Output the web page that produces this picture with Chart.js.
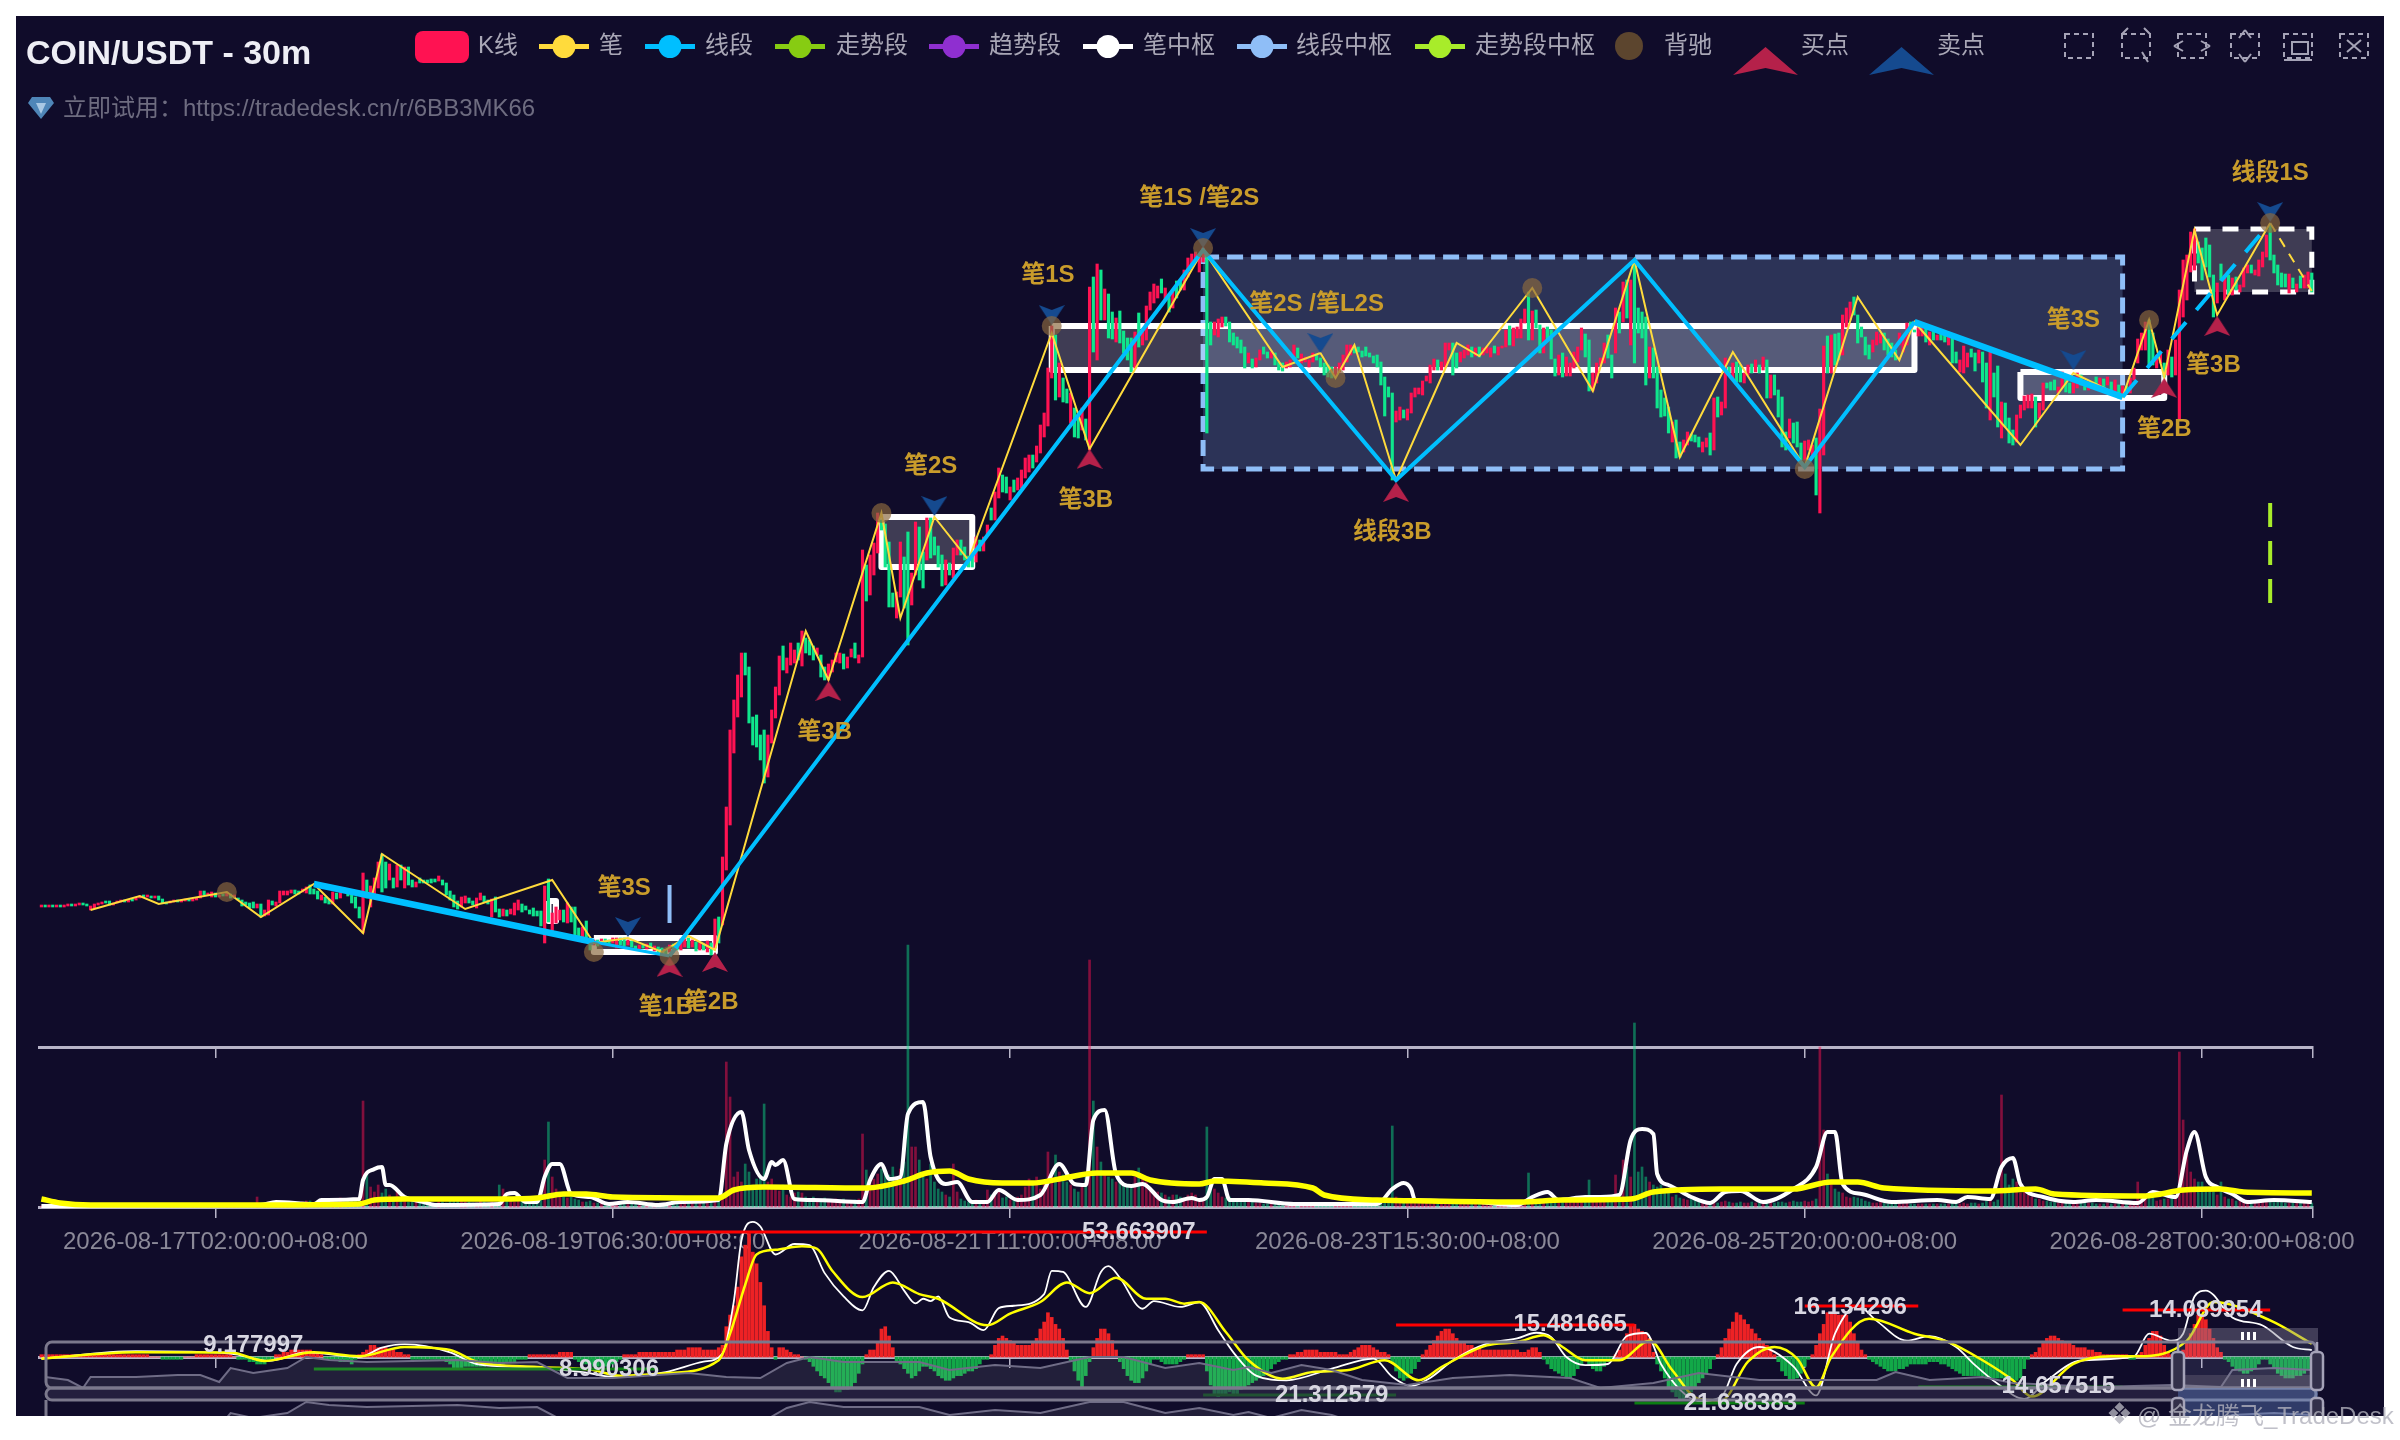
<!DOCTYPE html>
<html>
<head>
<meta charset="utf-8">
<title>COIN/USDT - 30m</title>
<script src="https://cdn.jsdelivr.net/npm/chart.js@4/dist/chart.umd.min.js"></script>
<style>
  html, body { margin: 0; padding: 0; background: #fff; width: 2400px; height: 1440px; overflow: hidden; }
  #board { position: absolute; left: 16px; top: 16px; width: 2368px; height: 1400px; background: #100c2a; overflow: hidden; }
  #chart { position: absolute; left: -16px; top: -16px; }
  #mark { position: absolute; left: 2106px; top: 1396px; white-space: nowrap; font: 24px "Liberation Sans", "Noto Sans CJK SC", sans-serif; color: rgba(176,176,188,.8); }
  #mark b { font: 30px "DejaVu Sans"; margin-right: 4px; }
</style>
</head>
<body>
<div id="board"><canvas id="chart" width="2400" height="1440"></canvas></div>
<div id="mark"><b>❖</b>@ 金龙腾飞_TradeDesk</div>
<script>
// K线 (价格没有坐标轴, 单位是相对值)
const candleOpen = [
93,94,93,94,93,94,93,94,95,94,95,96,95,90,92,95,96,98,99,95,
97,98,99,98,100,100,102,104,103,104,102,104,101,97,97,98,99,98,99,100,
99,100,102,109,105,103,107,103,105,104,106,103,102,100,98,97,98,92,96,84,
85,99,94,97,105,105,107,110,109,108,107,115,111,109,100,103,101,96,107,102,
112,110,108,103,93,67,120,93,102,112,146,138,120,122,113,135,112,133,120,113,
122,120,120,121,121,119,120,117,109,105,99,93,97,102,99,92,100,104,100,83,
103,91,84,90,86,85,90,96,94,90,92,89,89,57,121,69,77,80,90,77,
93,93,72,58,79,60,55,60,57,61,60,57,52,62,62,55,59,54,51,55,
51,57,49,53,52,50,48,56,55,50,53,62,53,58,50,56,48,57,52,83,
75,130,175,247,283,303,347,333,283,285,265,270,223,257,282,305,354,327,335,337,
357,334,362,360,354,345,345,333,320,328,338,337,346,332,343,357,337,343,435,405,
425,447,480,476,458,407,382,403,443,468,395,425,473,448,440,482,463,454,445,415,
437,422,445,460,453,444,445,438,460,449,465,492,480,502,525,523,500,520,510,512,
522,528,545,538,547,563,574,622,665,603,622,611,577,592,588,570,581,550,723,640,
730,680,706,688,658,689,669,662,662,632,687,655,660,690,697,702,721,700,706,692,
719,720,710,723,735,738,728,738,743,678,665,663,673,683,678,667,663,660,653,637,
641,633,640,653,648,642,647,638,637,632,633,640,652,637,638,633,638,646,642,637,
635,633,623,628,630,638,645,652,653,649,653,647,644,645,638,623,613,607,578,580,
590,580,587,603,606,605,619,617,630,640,630,633,650,657,647,638,642,645,653,644,
653,645,647,643,654,645,652,653,674,654,662,662,677,708,660,690,675,647,673,670,
641,625,647,624,624,632,638,650,666,660,609,617,635,637,665,645,647,688,678,720,
655,740,692,688,683,622,652,633,610,602,593,558,580,558,548,555,566,565,563,548,
553,567,550,603,585,592,633,620,638,635,617,625,636,628,635,630,640,602,625,610,
603,568,562,577,578,557,540,550,545,562,487,545,664,627,666,667,645,673,680,703,
685,673,663,655,648,655,657,667,661,657,650,655,648,655,678,670,664,664,675,655,
672,660,668,665,655,663,648,628,627,633,651,647,637,648,637,580,627,634,562,597,
582,570,558,582,590,592,592,603,582,590,617,618,620,607,612,622,617,607,612,625,
618,610,616,623,610,621,615,618,605,615,605,614,607,620,637,650,650,680,667,632,
637,637,625,643,625,580,683,700,728,730,758,752,762,755,725,697,736,700,725,705,
723,708,713,727,735,725,724,733,743,775,745,735,727,726,707,722,708,724,712,712,
727];
const candleClose = [
94,93,94,93,94,93,94,95,94,95,96,95,94,94,96,96,98,97,95,96,
98,99,98,100,99,102,104,103,104,102,103,100,97,96,98,99,98,99,100,99,
100,101,109,105,106,108,103,105,104,108,102,104,100,94,95,92,92,96,83,90,
100,95,98,109,109,109,110,106,106,111,113,106,106,101,105,97,96,108,101,112,
108,104,97,92,82,127,102,114,122,138,108,112,136,112,135,120,133,115,113,118,
117,117,117,117,118,124,115,105,100,93,91,103,104,97,95,102,107,98,96,101,
88,83,91,84,91,97,100,88,90,86,84,84,74,114,78,87,93,90,78,97,
78,62,60,73,58,50,60,54,61,57,56,62,62,55,54,60,53,50,55,52,
56,52,54,46,46,45,55,48,50,61,66,52,60,49,57,50,59,45,81,57,
143,193,270,300,325,347,325,277,255,253,240,217,265,290,313,344,330,342,357,350,
340,369,347,345,340,352,323,320,336,340,347,347,331,343,351,342,345,450,399,445,
457,487,470,433,393,393,408,458,392,355,427,478,420,412,482,442,445,433,414,440,
425,452,460,445,440,433,433,463,449,463,475,480,508,532,508,507,513,508,522,530,
542,545,532,554,575,587,632,674,600,637,598,597,607,563,562,592,560,713,648,736,
680,711,662,661,682,657,647,640,628,668,653,670,694,708,716,714,707,712,688,710,
702,710,730,742,746,748,745,752,567,655,678,681,683,674,658,655,652,647,632,647,
632,642,650,646,642,648,635,630,629,638,640,655,642,646,643,640,647,640,633,625,
623,622,633,637,645,655,655,647,648,643,644,643,637,633,615,584,603,520,589,593,
582,591,607,612,612,619,624,635,641,630,638,657,657,625,632,648,650,655,643,652,
643,652,653,652,647,653,654,670,655,672,673,681,691,660,689,672,647,672,660,641,
624,645,623,643,637,648,653,672,643,609,627,637,642,657,642,622,692,667,718,682,
720,637,667,662,615,653,622,592,583,584,567,578,542,543,560,568,559,558,553,558,
562,545,602,583,598,642,625,637,618,618,627,635,627,640,627,643,602,625,605,583,
553,550,581,557,553,540,559,560,555,505,591,654,627,665,635,640,685,692,698,685,
657,663,645,641,660,668,666,650,645,643,640,667,662,677,670,668,672,673,658,668,
660,665,660,658,666,637,637,640,654,647,643,629,650,618,592,648,603,573,598,573,
557,555,585,595,604,605,606,573,597,617,612,610,610,613,628,608,607,620,627,615,
610,616,612,616,622,613,623,607,620,602,614,608,622,632,661,667,678,635,635,645,
648,623,650,623,660,710,740,745,768,771,737,720,733,723,683,717,720,725,705,722,
710,715,732,735,727,730,740,748,765,740,727,715,713,713,726,712,716,712,725,728,
708];
// 成交量
const volumes = [
1,1,1,1,1,1,1,1,1,1,1,1,1,2,2,1,1,2,1,1,
1,2,1,1,1,2,2,1,1,2,1,2,3,2,1,1,1,2,1,1,
2,2,4,3,2,3,2,2,2,3,2,3,2,2,2,3,3,10,4,3,
5,4,4,6,4,4,3,3,3,5,6,6,4,5,4,4,4,7,5,9,
5,6,7,6,8,106,33,20,15,22,14,18,12,9,17,8,6,5,5,6,
4,3,4,3,3,5,5,4,6,7,8,6,5,5,4,4,8,5,4,5,
3,22,18,8,6,5,7,6,5,7,8,7,14,47,85,30,18,12,14,9,
10,8,7,5,5,6,4,4,4,3,3,4,4,4,3,3,3,3,3,2,
2,3,3,3,3,2,2,3,3,4,5,5,6,5,5,4,5,6,8,7,
12,145,110,30,35,25,43,35,22,28,30,103,25,28,20,16,22,12,10,14,
15,14,10,8,10,6,7,9,6,5,8,6,8,5,4,7,8,73,37,30,
28,33,38,35,32,40,30,38,45,262,60,60,47,30,28,43,25,18,15,12,
10,43,15,8,6,5,5,7,4,4,17,12,12,15,9,10,7,8,10,12,
20,28,22,30,18,25,55,35,52,35,32,25,22,18,15,20,30,247,106,60,
45,35,30,28,25,28,22,20,22,30,39,28,25,18,16,15,14,12,10,12,
12,10,9,12,14,12,8,9,80,25,18,14,10,9,10,8,7,7,6,5,
5,4,4,3,3,4,3,3,3,4,4,4,4,3,3,3,3,3,3,4,
4,3,3,3,4,5,4,3,3,3,3,3,3,4,6,8,6,81,10,7,
7,6,6,5,5,5,6,6,5,4,4,5,4,4,3,3,3,4,3,3,
3,3,3,3,3,3,3,4,4,4,4,4,5,34,8,5,8,6,5,8,
7,7,9,6,5,6,7,8,9,27,7,7,8,9,10,12,32,14,47,40,
30,184,35,40,30,25,22,20,22,16,15,10,12,9,8,7,8,7,5,6,
6,5,5,4,5,6,5,4,4,5,4,4,5,4,4,4,6,5,4,5,
5,4,5,6,5,5,6,5,6,8,160,77,33,25,18,15,14,10,9,10,
9,8,6,5,4,4,5,4,3,3,3,4,3,4,3,3,3,3,3,3,
3,3,3,3,3,4,4,3,4,3,4,4,3,4,6,8,5,7,112,33,
22,28,25,14,15,12,10,8,8,6,6,5,5,4,5,4,4,4,4,5,
4,4,4,3,3,3,4,3,3,4,3,4,5,6,25,10,8,10,9,6,
7,8,8,10,12,155,87,53,35,28,25,25,20,18,15,12,25,10,8,8,
6,6,8,7,7,6,6,5,5,6,5,5,5,4,4,4,4,4,4,4,
4];
const volFastBars = [0,58,62,72,74,84,85,88,90,91,92,96,101,104,121,123,125,128,131,133,135,137,140,145,150,155,163,169,179,181,185,187,191,193,194,196,199,204,217,219,222,224,227,229,233,235,239,242,246,250,253,258,264,269,273,276,278,281,284,288,291,296,299,304,306,308,310,312,314,319,331,353,357,360,362,363,375,390,394,398,401,408,412,417,420,423,426,427,430,436,441,445,449,455,463,469,472,474,476,481,489,501,506,509,515,518,521,523,529,537,543,554,558,564,567,569,572,575,579,583,590,600];
const volFastValues = [1,2,5,3,7,8,27,38,40,22,22,10,5,2,3,13,14,5,5,30,43,43,13,10,3,5,2,5,7,63,95,57,28,45,42,47,8,7,5,27,43,28,30,93,105,50,23,25,5,5,17,7,12,43,23,22,87,97,33,21,23,7,5,9,7,10,28,28,7,7,3,3,18,24,18,7,6,2,10,15,7,10,10,12,67,78,73,33,22,10,4,15,16,5,18,40,75,75,23,13,5,7,5,10,8,40,49,23,10,5,7,4,15,10,57,75,30,20,13,5,7,5];
const volSlowBars = [0,5,13,58,84,88,96,121,131,138,144,151,179,183,191,218,228,234,240,245,254,262,269,279,288,293,306,310,323,336,339,353,367,391,402,420,426,444,463,473,480,487,515,527,532,556,566,576,582,600];
const volSlowValues = [8,4,2,2,3,7,8,8,9,13,13,10,9,17,20,19,26,34,36,28,24,24,28,34,34,27,23,26,24,19,12,7,6,5,7,8,15,18,18,25,25,19,16,18,13,11,17,18,15,14];
// MACD
const macdHist = [
1,1,1,1,1,1,1,1,1,1,1,1,1,1,1,1,1,1,1,1,
1,1,1,1,1,1,1,1,1,0,0,0,-1,-1,-1,-1,-1,-1,0,0,
0,1,1,1,1,1,1,1,1,1,1,0,-1,-1,-1,-2,-2,-3,-3,-3,
-2,-1,1,1,2,2,3,3,3,3,3,3,2,2,1,-1,-1,-1,-1,-2,
-2,-2,-3,-1,1,2,3,5,5,4,4,4,3,3,2,2,1,1,-1,-1,
-1,-1,-1,-1,-1,-1,-1,-2,-3,-5,-5,-5,-4,-4,-4,-4,-4,-4,-3,-3,
-3,-3,-3,-2,-2,-2,-1,-1,-1,1,1,1,1,1,1,1,1,2,2,2,
2,-1,-2,-3,-3,-3,-4,-4,-4,-4,-4,-3,-2,-1,1,1,1,1,2,2,
2,2,2,2,2,2,2,2,3,3,3,4,4,4,4,3,3,3,3,4,
5,13,18,22,30,43,48,53,45,40,32,22,11,4,-1,4,4,3,2,1,
1,0,-1,-2,-4,-6,-8,-9,-11,-13,-15,-15,-14,-14,-13,-11,-7,-3,1,3,
3,6,12,13,9,4,-2,-3,-5,-7,-9,-8,-6,-4,-4,-5,-6,-8,-9,-10,
-10,-9,-8,-8,-7,-6,-6,-5,-3,-1,-1,1,5,8,9,8,7,6,5,5,
5,5,6,8,12,15,19,17,14,12,8,3,-2,-6,-10,-13,-8,-2,4,8,
12,12,10,7,3,-2,-5,-8,-10,-11,-11,-9,-6,-3,-1,-1,-2,-3,-3,-3,
-3,-2,-1,1,1,1,1,1,-6,-12,-16,-17,-16,-16,-15,-16,-16,-14,-13,-12,
-11,-10,-9,-8,-6,-5,-3,-2,-1,-1,1,1,2,2,3,3,3,3,2,2,
2,2,2,1,1,1,2,3,4,5,5,5,4,3,2,2,1,-2,-6,-9,
-10,-9,-7,-5,-2,1,3,5,7,9,11,12,12,10,8,6,6,5,5,4,
4,3,3,3,3,3,3,3,3,3,3,2,2,3,4,4,2,-1,-3,-5,
-6,-7,-8,-9,-9,-8,-5,-3,-1,-3,-5,-6,-6,-4,-2,-1,1,3,6,10,
14,14,12,11,10,8,2,-3,-6,-9,-13,-15,-17,-18,-18,-17,-15,-13,-11,-9,
-7,-5,-1,1,4,8,12,15,19,18,16,14,12,10,8,6,5,3,1,-2,
-6,-8,-10,-10,-9,-7,-4,-1,1,5,10,14,19,19,19,18,18,18,15,10,
6,3,1,-1,-2,-3,-4,-5,-6,-6,-6,-5,-5,-4,-3,-3,-3,-3,-3,-2,
-2,-2,-3,-3,-4,-5,-6,-7,-8,-8,-8,-8,-8,-8,-9,-9,-9,-9,-9,-9,
-10,-10,-10,-9,-5,-1,1,2,4,6,8,9,9,8,7,6,6,5,4,4,
4,3,3,2,2,1,1,1,1,1,1,1,-1,-1,1,2,5,8,11,11,
9,5,2,1,1,1,3,6,10,14,18,18,16,12,8,4,2,-1,-2,-4,
-5,-6,-7,-7,-6,-5,-3,-1,-1,-3,-5,-7,-8,-9,-9,-9,-8,-8,-7,-5,
-4];
const difBars = [0,25,50,60,70,84,90,96,108,115,129,143,151,165,175,180,183,185,188,190,194,199,203,207,212,217,220,224,228,231,233,235,237,240,245,249,253,257,265,267,270,276,280,282,285,291,294,301,306,311,315,321,329,341,352,357,362,367,373,382,390,395,399,403,408,414,419,424,428,433,438,444,448,454,463,469,474,480,485,493,499,506,511,517,524,530,539,553,557,563,566,569,572,579,587,595,600];
const difValues = [-0.7,2.5,1.5,-1.7,2,0,4,5.5,2,-3,-4.3,-6.5,-8.5,-6.5,-2,1.5,24,50,58,56,44,48.5,48,36,26,20,30,37,28.5,23,25,24,26,17,15,11.5,21,22,27,37,36.5,21.5,36.5,39,34,20.7,24,21.5,23.5,11.5,2,-8,-10,-5,-0.7,-8.5,-12.5,-9,-1.5,5.7,8,10.4,8.5,0,-3.5,-3,9,10.3,-3,-14,-19,-17,-3,4.3,-4,-16.5,10,22,15.5,7,9,4.3,-3.5,-11.5,-18,-10,-1.5,0.3,10,7,10,26,28.5,17,13.5,4.3,3];
const deaBars = [0,25,50,59,72,84,96,108,115,131,145,153,165,179,182,186,189,194,201,205,209,217,225,232,237,250,256,264,271,277,284,292,297,302,306,313,319,328,336,345,355,364,370,382,390,397,402,408,417,425,431,438,444,451,458,464,469,473,483,495,504,513,521,526,537,547,554,567,574,589,600];
const deaValues = [-0.7,2,1.9,-1.7,2,0.3,4.3,3,-2,-4.3,-5.4,-8,-7,-1.4,10,31,44,46,47.5,46.4,37,25.7,32,27,25,13.6,18.6,23.6,32,27.4,34,25,25,22.9,23.6,10.7,-1.4,-9.3,-6.4,-5.7,-1.4,-10,-4.3,5,6.4,9.3,4.3,-1.4,-1.4,7,-5.7,-18,-18.6,-2,4.3,-0.7,-13,0,16.4,10,6.4,-1.4,-10,-17,-3,0.3,0.3,7,23.6,15.7,5.7];
const markStart = [166,72,307,358,421,466,496,550];
const markEnd = [308,163,358,421,466,496,550,589];
const markLevel = [53.66,-5.2,-16.3,13.7,-19.7,21.9,-12.9,20.2];
const macdLabels = ["53.663907","9.177997","8.990306","21.312579","15.481665","21.638383","16.134296","14.657515","14.089954"];
const macdLabelBars = [290,56,150,341,404,449,478,533,572];
const macdLabelLevels = [54,5.6,-4.7,-15.9,14.6,-19.3,21.9,-12,20.6];
// 笔, 线段
const biBars = [13,26,31,49,58,72,85,90,112,135,146,155,164,171,178,202,208,222,227,236,245,267,277,307,328,338,342,347,358,374,380,394,410,421,433,447,466,480,491,495,523,537,550,557,561,569,575,589,600];
const biPrices = [90,104,96,108,83,116,67,146,91,120,57,62,48,64,50,369,320,487,382,483,440,667,551,750,633,647,622,655,520,657,644,712,609,740,543,648,533,703,640,678,555,627,603,680,623,770,685,777,709];
const segBars = [72,146,166,307,358,421,466,495,550,589];
const segPrices = [116,58,44,750,520,740,533,678,603,777];
// 中枢: 笔中枢, 线段中枢
const biZsStart = [146,222,267,523,134];
const biZsEnd = [178,246,495,561,136];
const biZsLow = [48,433,630,602,79];
const biZsHigh = [62,483,674,628,99];
const lastZs = {start: 569, end: 600, low: 708, high: 771};
const segZsStart = [307,166];
const segZsEnd = [550,166];
const segZsLow = [531,77];
const segZsHigh = [743,115];
const trendZsBar = 589;
const trendZsLow = 397;
const trendZsHigh = 507;
// 背驰, 买卖点
const divergeBars = [49,146,166,222,267,307,342,394,466,557,589];
const divergePrices = [108,48,44,487,674,752,622,712,531,680,777];
const buyBars = [166,178,208,277,358,561,575];
const buyPrices = [43,48,319,551,518,622,684];
const sellBars = [155,236,267,307,338,537,589];
const sellPrices = [63,484,675,752,647,630,778];
const signalLabels = ["笔3S","笔1B","笔2B","笔3B","笔2S","笔3B","笔1S","笔1S /笔2S","笔2S /笔L2S","线段3B","笔3S","笔2B","笔3B","线段1S"];
const signalBars = [154,165,177,207,235,276,266,306,337,357,537,561,574,589];
const signalPrices = [112,-7,-2,268,534,500,725,802,696,468,680,571,635,827];
// x 轴
const xTickBars = [46,151,256,361,466,571,600.3];
const xTickLabels = ["2026-08-17T02:00:00+08:00","2026-08-19T06:30:00+08:00","2026-08-21T11:00:00+08:00","2026-08-23T15:30:00+08:00","2026-08-25T20:00:00+08:00","2026-08-28T00:30:00+08:00",""];
// dataZoom 里的缩略线
const traceBars = [1,7,11,13,25,36,42,47,50,56,65,70,76,86,110,121,131,139,151,171,181,190,197,203,212,232,240,252,264,277,286,297,306,315,319,325,333,341,349,361,373,388,404,412,426,438,454,469,485,490,499,513,521,543,563,576,579,590,600];
const traceValues = [11,8,0,11,11,13,13,6,20,15,20,31,28,26,28,25,26,10,10,15,11,10,25,31,26,26,18,23,20,31,31,20,25,18,21,15,23,18,8,3,10,13,10,0,5,15,8,8,8,16,8,11,5,1,3,1,18,20,18];

const legendNames = ["K线","笔","线段","走势段","趋势段","笔中枢","线段中枢","走势段中枢","背驰","买点","卖点"];
const legendColors = ["#ff1252","#ffdb3c","#00bfff","#87cc12","#8f2fd0","#ffffff","#8fbef7","#a8ec2a","#5c452e","#b5214a","#154a8f"];

const FONT = "'Liberation Sans','Noto Sans CJK SC',sans-serif";
const UP = "#ff1252", DOWN = "#0fe68c";

// 每个 y 轴的零点所在像素和每单位像素, 只用来摆放各子图
const yBands = {y:[1000,1], yVol:[1207,1], yMacd:[1357,2.33], yTrace:[1388,1], yTrace2:[1433,1]};
const BAR_STEP = 3.784, X_LEFT = 39.5;

function pts(xs, ys) {
  return xs.map((x, i) => ({x: x, y: ys[i]}));
}

function rect(x0, x1, lo, hi) {
  return [{x:x0,y:hi},{x:x1,y:hi},{x:x1,y:lo},{x:x0,y:lo},{x:x0,y:hi}];
}

// 箭头, 尖端放在画布中心
function arrowIcon(color, up) {
  const c = document.createElement("canvas");
  c.width = 26; c.height = 40;
  const g = c.getContext("2d");
  g.fillStyle = color;
  g.beginPath();
  if (up) {
    g.moveTo(13,20); g.lineTo(26,40); g.lineTo(13,35); g.lineTo(0,40);
  } else {
    g.moveTo(13,20); g.lineTo(26,0); g.lineTo(13,5); g.lineTo(0,0);
  }
  g.closePath(); g.fill();
  return c;
}

const datasets = [];

// 中枢框
segZsStart.forEach((s, i) => datasets.push({
  type:"line", data:rect(s, segZsEnd[i], segZsLow[i], segZsHigh[i]), borderColor:"#8fbef7", borderWidth:i==0?5:4,
  borderDash:[16,8], backgroundColor:"rgba(144,190,250,.22)", fill:i==0?"shape":false, pointRadius:0, tension:0, order:12
}));
biZsStart.forEach((s, i) => datasets.push({
  type:"line", data:rect(s, biZsEnd[i], biZsLow[i], biZsHigh[i]), borderColor:"#ffffff", borderWidth:6,
  borderJoinStyle:"round", backgroundColor:"rgba(255,255,255,.2)", fill:"shape", pointRadius:0, tension:0, order:11
}));
datasets.push({
  type:"line", data:rect(lastZs.start, lastZs.end, lastZs.low, lastZs.high), borderColor:"#ffffff", borderWidth:5,
  borderDash:[16,12], backgroundColor:"rgba(255,255,255,.2)", fill:"shape", pointRadius:0, tension:0, order:11
});
datasets.push({
  type:"line", data:[{x:trendZsBar,y:trendZsLow},{x:trendZsBar,y:trendZsHigh}], borderColor:"#a8ec2a", borderWidth:4,
  borderDash:[24,14], pointRadius:0, order:11
});

// 成交量
datasets.push({
  type:"bar", yAxisID:"yVol", order:10, barThickness:2, grouped:false,
  data:volumes.map((v, i) => ({x:i, y:v})),
  backgroundColor:volumes.map((v, i) => candleClose[i] >= candleOpen[i] ? "rgba(255,18,82,.48)" : "rgba(15,230,140,.45)")
});
// MACD 柱
datasets.push({
  type:"bar", yAxisID:"yMacd", order:9, barThickness:3, grouped:false,
  data:macdHist.map((v, i) => ({x:i, y:v})),
  backgroundColor:macdHist.map(v => v >= 0 ? "#ee2225" : "#12a848")
});
// K线
datasets.push({
  type:"bar", order:8, barThickness:2.5, minBarLength:2, grouped:false,
  data:candleOpen.map((o, i) => ({x:i, y:[o, candleClose[i]]})),
  backgroundColor:candleOpen.map((o, i) => candleClose[i] >= o ? UP : DOWN)
});
// 笔
datasets.push({
  type:"line", data:pts(biBars, biPrices), borderColor:"#ffdb3c", borderWidth:2, pointRadius:0, tension:0, order:7,
  segment:{borderDash:c => c.p0DataIndex == biBars.length - 2 ? [10,8] : undefined}
});
// 线段
datasets.push({
  type:"line", data:pts(segBars, segPrices), borderColor:"#00bfff", borderWidth:4, pointRadius:0, tension:0, order:6,
  segment:{
    borderWidth:c => c.p0DataIndex == 0 || c.p0DataIndex == 7 ? 6.5 : c.p0DataIndex == 1 ? 3 : 4,
    borderDash:c => c.p0DataIndex == segBars.length - 2 ? [22,16] : undefined
  }
});
// 成交量均线
datasets.push({type:"line", yAxisID:"yVol", data:pts(volFastBars, volFastValues), borderColor:"#ffffff", borderWidth:4, pointRadius:0, cubicInterpolationMode:"monotone", order:5});
datasets.push({type:"line", yAxisID:"yVol", data:pts(volSlowBars, volSlowValues), borderColor:"#ffff00", borderWidth:5.5, pointRadius:0, cubicInterpolationMode:"monotone", order:4.5});
// DIF, DEA
datasets.push({type:"line", yAxisID:"yMacd", data:pts(difBars, difValues), borderColor:"#ffffff", borderWidth:1.8, pointRadius:0, cubicInterpolationMode:"monotone", order:5});
datasets.push({type:"line", yAxisID:"yMacd", data:pts(deaBars, deaValues), borderColor:"#ffff00", borderWidth:2.5, pointRadius:0, cubicInterpolationMode:"monotone", order:4.5});
markStart.forEach((s, i) => datasets.push({
  type:"line", yAxisID:"yMacd", data:[{x:s,y:markLevel[i]},{x:markEnd[i],y:markLevel[i]}],
  borderColor:markLevel[i] > 0 ? "#ff0000" : "#0b7d12", borderWidth:3, pointRadius:0, order:4
}));
// 背驰, 买卖点
datasets.push({type:"line", showLine:false, data:pts(divergeBars, divergePrices), pointStyle:"circle", pointRadius:10, pointBorderWidth:0, pointBackgroundColor:"rgba(139,105,62,.68)", order:3});
datasets.push({type:"line", showLine:false, data:pts(buyBars, buyPrices), pointStyle:arrowIcon("#b5214a", true), pointRadius:10, order:3});
datasets.push({type:"line", showLine:false, data:pts(sellBars, sellPrices), pointStyle:arrowIcon("#154a8f", false), pointRadius:10, order:3});
// dataZoom 缩略线
datasets.push({type:"line", yAxisID:"yTrace", data:pts(traceBars, traceValues), borderColor:"#6f6c86", borderWidth:2, pointRadius:0, tension:0, fill:{value:0}, backgroundColor:"rgba(255,255,255,.08)", order:1});
datasets.push({type:"line", yAxisID:"yTrace2", data:pts(traceBars, traceValues), borderColor:"#6f6c86", borderWidth:2, pointRadius:0, tension:0, fill:{value:0}, backgroundColor:"rgba(255,255,255,.08)", order:1});

function xAxis(level, showLabels) {
  return {
    type:"linear", axis:"x", min:-0.5, max:600.3, offset:false, position:{y:level},
    afterBuildTicks: a => { a.ticks = xTickBars.map(v => ({value:v})); },
    grid:{drawOnChartArea:false, drawTicks:true, tickLength:9, color:"#b8b5c8", lineWidth:1.5, offset:false},
    border:{display:true, color:"#b8b5c8", width:3},
    ticks:{
      display:showLabels, autoSkip:false, maxRotation:0, minRotation:0, padding:12,
      color:"#8b8998", font:{size:24, family:FONT},
      callback: v => xTickLabels[xTickBars.indexOf(v)]
    }
  };
}

function hiddenY() {
  return {type:"linear", display:false, min:0, max:1000};
}

function drawIcons(ctx) {
  ctx.save();
  ctx.strokeStyle = "#a5a3b6"; ctx.lineWidth = 2; ctx.setLineDash([5,4]);
  [2079,2136,2192,2245,2298,2354].forEach((x, i) => {
    ctx.strokeRect(x - 14, 34, 28, 24);
    ctx.beginPath();
    ctx.setLineDash([]);
    if (i == 1) { ctx.moveTo(x+6,52); ctx.lineTo(x+12,62); ctx.moveTo(x-14,34); ctx.lineTo(x-8,28); ctx.moveTo(x+14,34); ctx.lineTo(x+8,28); }
    if (i == 2) { ctx.moveTo(x-18,46); ctx.lineTo(x-9,41); ctx.moveTo(x-18,46); ctx.lineTo(x-9,51); ctx.moveTo(x+18,46); ctx.lineTo(x+9,41); ctx.moveTo(x+18,46); ctx.lineTo(x+9,51); }
    if (i == 3) { ctx.moveTo(x,30); ctx.lineTo(x-6,38); ctx.moveTo(x,30); ctx.lineTo(x+6,38); ctx.moveTo(x,62); ctx.lineTo(x-6,54); ctx.moveTo(x,62); ctx.lineTo(x+6,54); }
    if (i == 4) { ctx.rect(x-6,42,16,12); ctx.moveTo(x-14,60); ctx.lineTo(x+14,60); }
    if (i == 5) { ctx.moveTo(x-7,40); ctx.lineTo(x+7,52); ctx.moveTo(x+7,40); ctx.lineTo(x-7,52); }
    ctx.stroke();
    ctx.setLineDash([5,4]);
  });
  ctx.restore();
}

function drawLegend(ctx) {
  const lineIcons = [539,645,775,929,1083,1237,1415];
  const textX = [478,599,705,836,989,1143,1296,1475,1664,1801,1937];
  ctx.save();
  ctx.fillStyle = legendColors[0];
  ctx.beginPath(); ctx.roundRect(415,31,54,32,8); ctx.fill();
  lineIcons.forEach((x, i) => {
    ctx.fillStyle = legendColors[i + 1];
    ctx.fillRect(x, 44, 50, 5);
    ctx.beginPath(); ctx.arc(x + 25, 46.5, 11.5, 0, Math.PI * 2); ctx.fill();
  });
  ctx.fillStyle = legendColors[8];
  ctx.beginPath(); ctx.arc(1629, 46, 14, 0, Math.PI * 2); ctx.fill();
  [[1733,legendColors[9]],[1869,legendColors[10]]].forEach(a => {
    ctx.fillStyle = a[1];
    ctx.beginPath();
    ctx.moveTo(a[0]+32.5,47); ctx.lineTo(a[0]+65,75); ctx.lineTo(a[0]+32.5,68); ctx.lineTo(a[0],75);
    ctx.closePath(); ctx.fill();
  });
  ctx.fillStyle = "#a9a7b6";
  ctx.font = "24px " + FONT;
  ctx.textBaseline = "middle";
  legendNames.forEach((n, i) => ctx.fillText(n, textX[i], 46));
  ctx.restore();
}

function drawHeader(ctx) {
  ctx.save();
  ctx.textBaseline = "middle";
  ctx.fillStyle = "#eeeef5";
  ctx.font = "bold 34px " + FONT;
  ctx.fillText("COIN/USDT - 30m", 26, 55);
  ctx.fillStyle = "#4f86b8";
  ctx.beginPath();
  ctx.moveTo(32,97); ctx.lineTo(50,97); ctx.lineTo(54,103); ctx.lineTo(41,119); ctx.lineTo(28,103);
  ctx.closePath(); ctx.fill();
  ctx.fillStyle = "#a9c8e4";
  ctx.beginPath(); ctx.moveTo(36,103); ctx.lineTo(46,103); ctx.lineTo(41,114); ctx.closePath(); ctx.fill();
  ctx.fillStyle = "#6e6c80";
  ctx.font = "24px " + FONT;
  ctx.fillText("立即试用：https://tradedesk.cn/r/6BB3MK66", 63, 109);
  ctx.restore();
}

function drawSliders(ctx) {
  ctx.save();
  ctx.lineWidth = 3;
  ctx.strokeStyle = "#7b788c";
  ctx.fillStyle = "rgba(52,48,78,.55)";
  ctx.beginPath(); ctx.roundRect(46,1388,2270,12,6); ctx.fill();
  ctx.stroke();
  ctx.beginPath(); ctx.roundRect(46,1342,2270,46,6); ctx.stroke();
  ctx.beginPath(); ctx.moveTo(46,1400); ctx.lineTo(46,1420); ctx.stroke();
  // 选中范围
  ctx.fillStyle = "rgba(130,128,150,.42)";
  ctx.fillRect(2178,1328,140,14);
  ctx.fillRect(2178,1375,140,13);
  ctx.fillStyle = "rgba(160,170,220,.13)";
  ctx.fillRect(2178,1342,140,33);
  ctx.fillStyle = "rgba(110,150,220,.35)";
  ctx.fillRect(2178,1388,140,28);
  ctx.fillStyle = "#fff";
  [1330,1377].forEach(y => [2241,2247,2253].forEach(x => ctx.fillRect(x, y + 2, 3, 8)));
  ctx.lineWidth = 2.5;
  ctx.strokeStyle = "#a5a3b8";
  ctx.fillStyle = "#33304a";
  [2178,2317].forEach(x => {
    ctx.beginPath(); ctx.moveTo(x,1342); ctx.lineTo(x,1352); ctx.stroke();
    ctx.beginPath(); ctx.roundRect(x-6,1352,12,38,4); ctx.fill(); ctx.stroke();
    ctx.beginPath(); ctx.roundRect(x-6,1398,12,30,4); ctx.fill(); ctx.stroke();
  });
  ctx.restore();
}

const overlayPlugin = {
  id:"overlay",
  afterDraw(chart) {
    const ctx = chart.ctx, sx = chart.scales.x, sy = chart.scales.y, sm = chart.scales.yMacd;
    drawSliders(ctx);
    ctx.save();
    ctx.textAlign = "center";
    ctx.textBaseline = "middle";
    ctx.font = "bold 24px " + FONT;
    ctx.fillStyle = "#c99c2b";
    signalLabels.forEach((t, i) => ctx.fillText(t, sx.getPixelForValue(signalBars[i]), sy.getPixelForValue(signalPrices[i])));
    ctx.fillStyle = "#d8d7e2";
    macdLabels.forEach((t, i) => ctx.fillText(t, sx.getPixelForValue(macdLabelBars[i]), sm.getPixelForValue(macdLabelLevels[i]) + 1));
    ctx.restore();
    drawHeader(ctx);
    drawLegend(ctx);
    drawIcons(ctx);
  }
};

Chart.defaults.font.family = FONT;

const chart = new Chart(document.getElementById("chart"), {
  type:"line",
  data:{datasets:datasets},
  plugins:[overlayPlugin],
  options:{
    responsive:false,
    devicePixelRatio:1,
    animation:false,
    events:[],
    layout:{padding:{left:39.5, right:87, top:0, bottom:0}},
    plugins:{legend:{display:false}, title:{display:false}, tooltip:{enabled:false}},
    datasets:{line:{clip:false}, bar:{clip:false}},
    scales:{
      x:xAxis(-47, false),
      x2:xAxis(-207, true),
      x3:xAxis(-357, false),
      y:hiddenY(), yVol:hiddenY(), yMacd:hiddenY(), yTrace:hiddenY(), yTrace2:hiddenY()
    }
  }
});

// chartArea 只有布局之后才知道, 再据此定各轴范围
const area = chart.chartArea;
Object.keys(yBands).forEach(id => {
  const b = yBands[id];
  chart.options.scales[id].min = (b[0] - area.bottom) / b[1];
  chart.options.scales[id].max = (b[0] - area.top) / b[1];
});
["x","x2","x3"].forEach(id => {
  chart.options.scales[id].min = (area.left - X_LEFT) / BAR_STEP - 0.5;
  chart.options.scales[id].max = (area.right - X_LEFT) / BAR_STEP - 0.5;
});
chart.update();
</script>
</body>
</html>
